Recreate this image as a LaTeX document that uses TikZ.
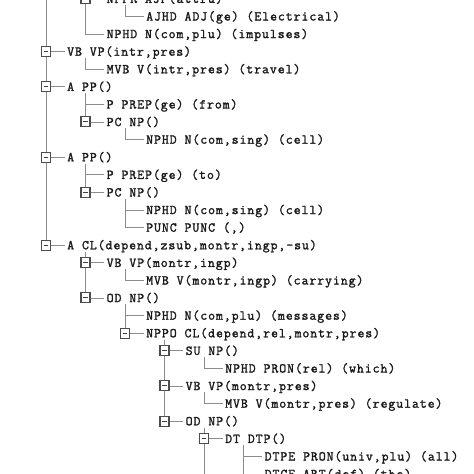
\documentclass[tikz,border=0pt]{standalone}
\usepackage{fontspec}
\newfontfamily\treefont{Latin Modern Mono}[LetterSpace=6.7, FakeBold=1.6]

\begin{document}
\begin{tikzpicture}[x=1pt, y=-1pt,
    lbl/.style={anchor=west, inner xsep=2.5pt, inner ysep=0pt, text height=10.4pt, text depth=2pt,
        font=\treefont\fontsize{13.5}{15}\selectfont, text=black!90},
    tbox/.style={draw=black!70, line width=1.1pt, fill=white, minimum width=9pt, minimum height=10pt, inner sep=0pt,
        path picture={\draw[black!75, line width=1pt] ([xshift=2.2pt]path picture bounding box.west) -- ([xshift=-2.2pt]path picture bounding box.east);}},
    link/.style={draw=black!45, line width=0.8pt}]
    \clip (0,0) rectangle (474,474);

    % Top rows (cut off)
    \node[tbox] (b0) at (85.5,-1.3) {};
    \node[lbl] (t0) at (104,-1.3) {NPPR AJP(attru)};
    \node[lbl] (t1) at (143.5,16.3) {AJHD ADJ(ge) (Electrical)};
    \node[lbl] (t2) at (104,33.9) {NPHD N(com,plu) (impulses)};

    % VB VP
    \node[tbox] (b3) at (46,51.5) {};
    \node[lbl] (t3) at (64.5,51.5) {VB VP(intr,pres)};
    \node[lbl] (t4) at (104,69.1) {MVB V(intr,pres) (travel)};

    % First A PP
    \node[tbox] (b5) at (46,86.7) {};
    \node[lbl] (t5) at (64.5,86.7) {A PP()};
    \node[lbl] (t6) at (104,104.3) {P PREP(ge) (from)};
    \node[tbox] (b7) at (85.5,121.9) {};
    \node[lbl] (t7) at (104,121.9) {PC NP()};
    \node[lbl] (t8) at (143.5,139.5) {NPHD N(com,sing) (cell)};

    % Second A PP
    \node[tbox] (b9) at (46,157.1) {};
    \node[lbl] (t9) at (64.5,157.1) {A PP()};
    \node[lbl] (t10) at (104,174.7) {P PREP(ge) (to)};
    \node[tbox] (b11) at (85.5,192.3) {};
    \node[lbl] (t11) at (104,192.3) {PC NP()};
    \node[lbl] (t12) at (143.5,209.9) {NPHD N(com,sing) (cell)};
    \node[lbl] (t13) at (143.5,227.5) {PUNC PUNC (,)};

    % A CL
    \node[tbox] (b14) at (46,245.1) {};
    \node[lbl] (t14) at (64.5,245.1) {A CL(depend,zsub,montr,ingp,-su)};
    \node[tbox] (b15) at (85.5,262.7) {};
    \node[lbl] (t15) at (104,262.7) {VB VP(montr,ingp)};
    \node[lbl] (t16) at (143.5,280.3) {MVB V(montr,ingp) (carrying)};
    \node[tbox] (b17) at (85.5,297.9) {};
    \node[lbl] (t17) at (104,297.9) {OD NP()};
    \node[lbl] (t18) at (143.5,315.5) {NPHD N(com,plu) (messages)};

    % Relative clause
    \node[tbox] (b19) at (125,333.1) {};
    \node[lbl] (t19) at (143.5,333.1) {NPPO CL(depend,rel,montr,pres)};
    \node[tbox] (b20) at (164.5,350.7) {};
    \node[lbl] (t20) at (183,350.7) {SU NP()};
    \node[lbl] (t21) at (222.5,368.3) {NPHD PRON(rel) (which)};
    \node[tbox] (b22) at (164.5,385.9) {};
    \node[lbl] (t22) at (183,385.9) {VB VP(montr,pres)};
    \node[lbl] (t23) at (222.5,403.5) {MVB V(montr,pres) (regulate)};
    \node[tbox] (b24) at (164.5,421.1) {};
    \node[lbl] (t24) at (183,421.1) {OD NP()};
    \node[tbox] (b25) at (204,438.7) {};
    \node[lbl] (t25) at (222.5,438.7) {DT DTP()};
    \node[lbl] (t26) at (262,456.3) {DTPE PRON(univ,plu) (all)};
    \node[lbl] (t27) at (262,473.9) {DTCE ART(def) (the)};

    % Free ends above and below
    \coordinate (topA) at (46,-20);
    \coordinate (topB) at (85.5,-20);
    \coordinate (botD) at (204,490);
    \coordinate (botE) at (243.5,490);

    % Start points under parents
    \coordinate (c0) at ([xshift=21pt]t0.south west);
    \coordinate (c3) at ([xshift=21pt]t3.south west);
    \coordinate (c5) at ([xshift=21pt]t5.south west);
    \coordinate (c7) at ([xshift=21pt]t7.south west);
    \coordinate (c9) at ([xshift=21pt]t9.south west);
    \coordinate (c11) at ([xshift=21pt]t11.south west);
    \coordinate (c14) at ([xshift=21pt]t14.south west);
    \coordinate (c15) at ([xshift=21pt]t15.south west);
    \coordinate (c17) at ([xshift=21pt]t17.south west);
    \coordinate (c19) at ([xshift=21pt]t19.south west);
    \coordinate (c20) at ([xshift=21pt]t20.south west);
    \coordinate (c22) at ([xshift=21pt]t22.south west);
    \coordinate (c24) at ([xshift=21pt]t24.south west);
    \coordinate (c25) at ([xshift=21pt]t25.south west);

    % Box to label
    \draw[link] (b0.east) -- (b0.east -| t0.west);
    \draw[link] (b3.east) -- (b3.east -| t3.west);
    \draw[link] (b5.east) -- (b5.east -| t5.west);
    \draw[link] (b7.east) -- (b7.east -| t7.west);
    \draw[link] (b9.east) -- (b9.east -| t9.west);
    \draw[link] (b11.east) -- (b11.east -| t11.west);
    \draw[link] (b14.east) -- (b14.east -| t14.west);
    \draw[link] (b15.east) -- (b15.east -| t15.west);
    \draw[link] (b17.east) -- (b17.east -| t17.west);
    \draw[link] (b19.east) -- (b19.east -| t19.west);
    \draw[link] (b20.east) -- (b20.east -| t20.west);
    \draw[link] (b22.east) -- (b22.east -| t22.west);
    \draw[link] (b24.east) -- (b24.east -| t24.west);
    \draw[link] (b25.east) -- (b25.east -| t25.west);

    % Outer level
    \draw[link] (topA) -- (b3);
    \draw[link] (b3) -- (b5);
    \draw[link] (b5) -- (b9);
    \draw[link] (b9) -- (b14);
    \draw[link] (topB) -- (b0);
    \draw[link] (b0) |- (t2.west);
    \draw[link] (c0) |- (t1.west);

    % Branches
    \draw[link] (c3) |- (t4.west);
    \draw[link] (c5) -- (b7);
    \draw[link] (c5 |- t6.west) -- (t6.west);
    \draw[link] (c7) |- (t8.west);
    \draw[link] (c9) -- (b11);
    \draw[link] (c9 |- t10.west) -- (t10.west);
    \draw[link] (c11) |- (t13.west);
    \draw[link] (c11 |- t12.west) -- (t12.west);
    \draw[link] (c14) -- (b15);
    \draw[link] (b15) -- (b17);
    \draw[link] (c15) |- (t16.west);
    \draw[link] (c17) -- (b19);
    \draw[link] (c17 |- t18.west) -- (t18.west);
    \draw[link] (c19) -- (b20);
    \draw[link] (b20) -- (b22);
    \draw[link] (b22) -- (b24);
    \draw[link] (c20) |- (t21.west);
    \draw[link] (c22) |- (t23.west);
    \draw[link] (c24) -- (b25);
    \draw[link] (b25) -- (botD);
    \draw[link] (c25) -- (botE);
    \draw[link] (c25 |- t26.west) -- (t26.west);
    \draw[link] (c25 |- t27.west) -- (t27.west);
\end{tikzpicture}
\end{document}
